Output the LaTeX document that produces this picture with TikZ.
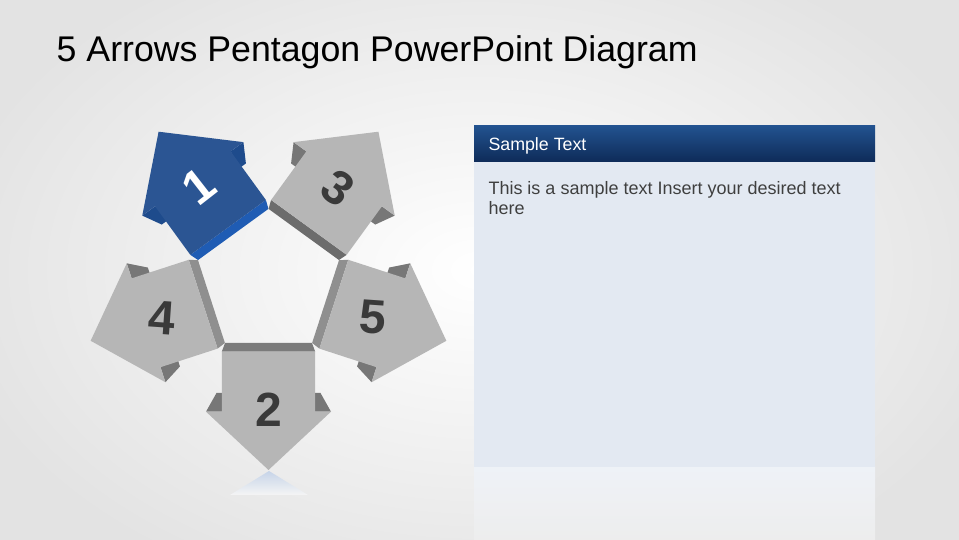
\documentclass[tikz,border=0pt]{standalone}
\usepackage{fontspec}
\setmainfont{Liberation Sans}
\definecolor{facegray}{HTML}{B6B6B6}
\definecolor{faceblue}{HTML}{2B5593}
\definecolor{bandblue}{HTML}{1F5CB4}
\definecolor{wingblue}{HTML}{1E4B8C}
\definecolor{bandtwo}{HTML}{7B7B7B}
\definecolor{bandthree}{HTML}{6C6C6C}
\definecolor{bandside}{HTML}{8F8F8F}
\definecolor{winggray}{HTML}{777777}
\definecolor{numgray}{HTML}{3A3A3A}
\definecolor{headtop}{HTML}{22528F}
\definecolor{headbot}{HTML}{0E2B58}
\definecolor{panelbody}{HTML}{E3E9F2}
\definecolor{bodytext}{HTML}{3F3F3F}
\definecolor{glow}{HTML}{C6D4E8}
\tikzset{
  num/.style={font=\fontsize{48}{48}\selectfont\bfseries, inner sep=0pt},
  paneltext/.style={font=\fontsize{18}{20.7}\selectfont, inner sep=0pt, anchor=base west, align=left}
}
\begin{document}
\begin{tikzpicture}[x=1pt,y=1pt]
  \useasboundingbox (0,0) rectangle (959,540);
  \shade[inner color=white, outer color=black!11] (-60,-80) rectangle (1019,620);
  \node[anchor=base west, inner sep=0pt, font=\fontsize{35.7}{40}\selectfont] (title) at (56.5,478.3) {5 Arrows Pentagon PowerPoint Diagram};

  % the five arrows round the ring
  \coordinate (ring) at (268.5,257);
  \shade[top color=glow, bottom color=white!96!black] (269,69) -- (308,45) -- (230,45) -- cycle;
  \foreach \ang/\num/\rad/\tilt/\face/\band/\wing/\ink in {
      270/2/127/0/facegray/bandtwo/winggray/numgray,
      198/4/112/-4/facegray/bandside/winggray/numgray,
      126/1/119/38/faceblue/bandblue/wingblue/white,
      54/3/118/-36/facegray/bandthree/winggray/numgray,
      342/5/110/-4/facegray/bandside/winggray/numgray}{
    \begin{scope}[shift={(ring)}, rotate=\ang]
      \fill[\band] (60,-43.5) -- (60,43.5) -- (68.7,46.7) -- (68.7,-46.7) -- cycle;
      \fill[\wing] (110,43.5) -- (110,52) -- (128.7,62.5) -- (128.7,46.7) -- cycle;
      \fill[\wing] (110,-43.5) -- (110,-52) -- (128.7,-62.5) -- (128.7,-46.7) -- cycle;
      \fill[\face] (68.7,-46.7) -- (128.7,-46.7) -- (128.7,-62.5) -- (187,0)
        -- (128.7,62.5) -- (128.7,46.7) -- (68.7,46.7) -- cycle;
      \node[num, text=\ink, rotate=\tilt] (num\num) at (\rad,0) {\num};
    \end{scope}
  }

  % text panel
  \shade[top color=panelbody!60!white, bottom color=white!93!black] (474,0) rectangle (875,73.3);
  \fill[panelbody] (474,73.3) rectangle (875,378);
  \shade[top color=headtop, bottom color=headbot] (474,378) rectangle (875,414);
  \node[paneltext, font=\fontsize{17.8}{20}\selectfont, text=white] (head) at (488.3,389.3) {Sample Text};
  \node[paneltext, text=bodytext] (body) at (488.3,325) {This is a sample text Insert your desired text\\here};
\end{tikzpicture}
\end{document}
